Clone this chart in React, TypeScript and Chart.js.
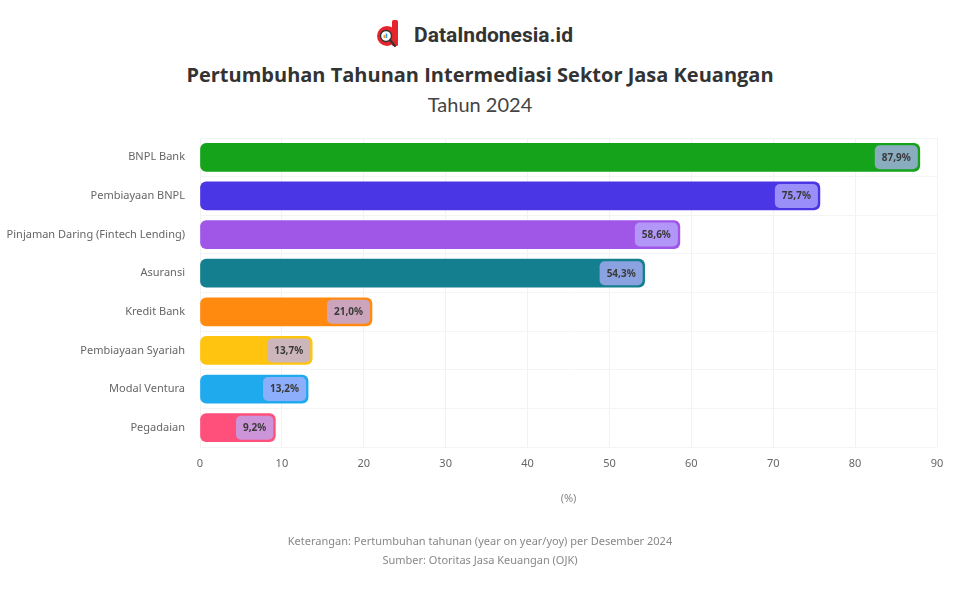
import React, { useEffect, useRef } from "react";
import { Chart, registerables } from "chart.js";

Chart.register(...registerables);

const categories = [
  "BNPL Bank",
  "Pembiayaan BNPL",
  "Pinjaman Daring (Fintech Lending)",
  "Asuransi",
  "Kredit Bank",
  "Pembiayaan Syariah",
  "Modal Ventura",
  "Pegadaian",
];
const growthValues = [87.9, 75.7, 58.6, 54.3, 21.0, 13.7, 13.2, 9.2];
const barColors = [
  "#14a31b",
  "#4b36e6",
  "#a057e8",
  "#14808f",
  "#ff8a0f",
  "#ffc40f",
  "#1faaee",
  "#ff507c",
];
const xTickValues = [0, 10, 20, 30, 40, 50, 60, 70, 80, 90];

const FONT = "'Noto Sans', sans-serif";

const fmt = (v: number) => v.toFixed(1).replace(".", ",") + "%";

const valueLabelPlugin = {
  id: "valueLabels",
  afterDatasetsDraw(chart: any) {
    const ctx = chart.ctx;
    const meta = chart.getDatasetMeta(0);
    ctx.save();
    ctx.font = `bold 10px ${FONT}`;
    ctx.textBaseline = "middle";
    ctx.textAlign = "center";
    meta.data.forEach((bar: any, i: number) => {
      const props = bar.getProps(["x", "y", "base", "height"], true);
      const text = fmt(growthValues[i]);
      const tw = ctx.measureText(text).width;
      const bw = tw + 14;
      const bh = props.height - 4;
      const right = props.x - 2;
      const left = right - bw;
      const top = props.y - bh / 2;
      ctx.fillStyle = "rgba(185,176,255,0.72)";
      ctx.beginPath();
      (ctx as any).roundRect(left, top, bw, bh, 5);
      ctx.fill();
      ctx.fillStyle = "#3a3a3a";
      ctx.fillText(text, left + bw / 2, props.y + 0.5);
    });
    ctx.restore();
  },
};

function BarChart() {
  const ref = useRef<HTMLCanvasElement | null>(null);
  useEffect(() => {
    if (!ref.current) return;
    const chart = new Chart(ref.current, {
      type: "bar",
      data: {
        labels: categories,
        datasets: [
          {
            data: growthValues,
            backgroundColor: barColors,
            borderRadius: 6,
            borderSkipped: false,
            barThickness: 28,
          },
        ],
      },
      options: {
        indexAxis: "y",
        animation: false,
        responsive: false,
        devicePixelRatio: 1,
        layout: { padding: { top: 138, right: 23, left: 0, bottom: 88 } },
        plugins: {
          legend: { display: false },
          tooltip: { enabled: false },
        },
        scales: {
          x: {
            min: 0,
            max: 90,
            afterBuildTicks: (scale: any) => {
              scale.ticks = xTickValues.map((v) => ({ value: v }));
            },
            afterFit: (scale: any) => {
              scale.height = 65;
            },
            grid: { color: "#f2f2f2", drawTicks: false },
            border: { display: false },
            ticks: {
              padding: 10,
              color: "#666",
              font: { family: FONT, size: 11 },
            },
            title: {
              display: true,
              text: "(%)",
              color: "#888",
              font: { family: FONT, size: 11 },
              padding: { top: 4, bottom: 7 },
            },
          },
          y: {
            afterFit: (scale: any) => {
              scale.width = 200;
            },
            grid: { color: "#f4f4f4", drawTicks: false },
            border: { display: false },
            ticks: {
              padding: 15,
              color: "#666",
              font: { family: FONT, size: 11 },
            },
          },
        },
      },
      plugins: [valueLabelPlugin],
    } as any);
    return () => chart.destroy();
  }, []);
  return (
    <canvas
      ref={ref}
      width={960}
      height={600}
      style={{ position: "absolute", left: 0, top: 0, width: 960, height: 600 }}
    />
  );
}

export default function App() {
  return (
    <div
      style={{
        position: "fixed",
        left: 0,
        top: 0,
        width: 960,
        height: 600,
        background: "#fff",
        overflow: "hidden",
      }}
    >
      <svg
        width={28}
        height={30}
        viewBox="0 0 28 30"
        style={{ position: "absolute", left: 375, top: 19 }}
      >
        <rect x={17} y={1} width={6} height={26} rx={1.5} fill="#e4252b" />
        <circle cx={12} cy={17} r={10} fill="#e4252b" />
        <circle cx={11} cy={17} r={5.5} fill="#fff" />
        <rect x={8.5} y={16} width={1.6} height={3} fill="#f0a020" />
        <rect x={10.6} y={14.5} width={1.6} height={4.5} fill="#2a9df4" />
        <circle cx={11} cy={17} r={5.5} fill="none" stroke="#333" strokeWidth={1.4} />
        <line x1={15} y1={21} x2={20} y2={27} stroke="#333" strokeWidth={2.2} strokeLinecap="round" />
      </svg>
      <div
        style={{
          position: "absolute",
          left: 414,
          top: 21,
          fontFamily: "Roboto, sans-serif",
          fontWeight: 700,
          fontSize: 21,
          lineHeight: "28px",
          color: "#333",
          whiteSpace: "nowrap",
        }}
      >
        DataIndonesia.id
      </div>
      <div
        style={{
          position: "absolute",
          left: 0,
          width: 960,
          top: 62,
          textAlign: "center",
          fontFamily: "'Open Sans', sans-serif",
          fontWeight: 700,
          fontSize: 20,
          lineHeight: "26px",
          color: "#333",
          whiteSpace: "nowrap",
        }}
      >
        Pertumbuhan Tahunan Intermediasi Sektor Jasa Keuangan
      </div>
      <div
        style={{
          position: "absolute",
          left: 0,
          width: 960,
          top: 91,
          textAlign: "center",
          fontFamily: "Lato, sans-serif",
          fontWeight: 400,
          fontSize: 20,
          lineHeight: "26px",
          color: "#444",
          whiteSpace: "nowrap",
        }}
      >
        Tahun 2024
      </div>
      <BarChart />
      <div
        style={{
          position: "absolute",
          left: 0,
          width: 960,
          top: 531,
          textAlign: "center",
          fontFamily: FONT,
          fontSize: 11,
          lineHeight: "19px",
          color: "#888",
          whiteSpace: "nowrap",
        }}
      >
        <div>Keterangan: Pertumbuhan tahunan (year on year/yoy) per Desember 2024</div>
        <div>Sumber: Otoritas Jasa Keuangan (OJK)</div>
      </div>
    </div>
  );
}
